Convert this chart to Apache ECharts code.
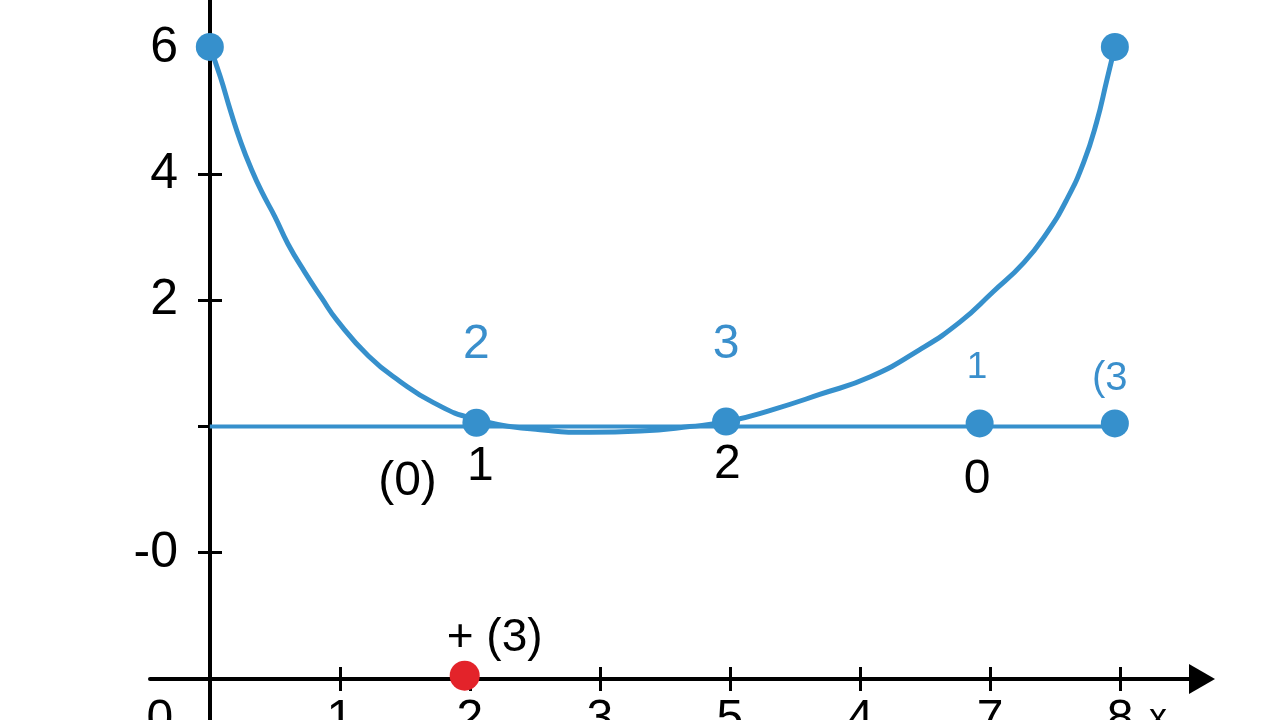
<!DOCTYPE html>
<html><head><meta charset="utf-8">
<script src="https://cdn.jsdelivr.net/npm/echarts@6/dist/echarts.min.js"></script>
<style>html,body{margin:0;padding:0;background:#fff}#c{width:1280px;height:720px}</style>
</head><body><div id="c"></div>
<script>
// ---- data ----
const xTickValues = [0, 1, 2, 3, 4, 5, 6, 7];
const xTickLabels = ['0', '1', '2', '3', '5', '4', '7', '8'];
const yTickValues = [-2, 0, 2, 4, 6];
const yTickLabels = ['-0', '', '2', '4', '6'];
const xAxisName = 'x';

const curvePoints = [
  [0, 6.02], [0.08, 5.55], [0.16, 5.0], [0.24, 4.5], [0.32, 4.08], [0.40, 3.72],
  [0.50, 3.33], [0.60, 2.90], [0.73, 2.45], [0.86, 2.04], [0.98, 1.68], [1.22, 1.12],
  [1.46, 0.72], [1.72, 0.38], [2.02, 0.13], [2.54, -0.05], [2.92, -0.09], [3.31, -0.07],
  [3.69, 0.0], [3.98, 0.08], [4.33, 0.27], [4.69, 0.51], [5.08, 0.79], [5.46, 1.22],
  [5.77, 1.66], [6.02, 2.13], [6.26, 2.60], [6.44, 3.08], [6.59, 3.60], [6.72, 4.19],
  [6.82, 4.83], [6.90, 5.51], [6.96, 6.02]
];
const baselinePoints = [[0, 0], [6.96, 0]];
const baselineMarkers = [[2.05, 0.06], [3.97, 0.08], [5.92, 0.05], [6.96, 0.05]];
const curveEndMarkers = [[0, 6.02], [6.96, 6.02]];
const redPoints = [[1.96, -3.95]];

const blueNotes = [[2.05, 1.30, '2'], [3.97, 1.30, '3'], [5.9, 0.94, '1'], [6.92, 0.75, '(3']];
const blueNoteSizes = [48, 48, 37, 40];
const blackNotes = [[1.52, -0.87, '(0)'], [2.08, -0.63, '1'], [3.98, -0.60, '2'], [5.9, -0.84, '0']];
const redNotes = [[2.19, -3.35, '+ (3)']];

// ---- chart ----
const BLUE = '#3690cc';
const FONT = 'Liberation Sans';
const XMIN = -0.46, XMAX = 7.63, YMIN = -4.7, YMAX = 6.78;

function noteSeries(notes, color, sizes, defSize) {
  return {
    type: 'scatter', symbolSize: 0, silent: true, z: 5,
    itemStyle: { color: color },
    data: notes.map((n, i) => ({
      value: [n[0], n[1]], name: n[2],
      label: { fontSize: sizes ? sizes[i] : defSize }
    })),
    label: {
      show: true, position: 'inside', formatter: '{b}', opacity: 1,
      color: color, fontFamily: FONT, fontSize: defSize, textBorderWidth: 0
    }
  };
}

const xCommon = { type: 'value', min: XMIN, max: XMAX, position: 'bottom', offset: -44, splitLine: { show: false } };
const yCommon = { type: 'value', min: YMIN, max: YMAX, position: 'left', offset: -60, splitLine: { show: false } };

const option = {
  animation: false,
  backgroundColor: '#fff',
  grid: { left: 150, right: 78, top: -1, bottom: -3, outerBoundsMode: 'none', containLabel: false },
  xAxis: [
    Object.assign({}, xCommon, {
      name: xAxisName, nameLocation: 'end', nameGap: -44,
      nameTextStyle: { color: '#000', fontFamily: FONT, fontSize: 36, align: 'center', verticalAlign: 'top', padding: [22, 0, 0, 0] },
      axisLine: { show: true, onZero: false, symbol: ['none', 'triangle'], symbolSize: [30, 26], lineStyle: { color: '#000', width: 4 } },
      axisTick: { show: true, customValues: xTickValues.slice(1), length: 12, lineStyle: { color: '#000', width: 3 } },
      axisLabel: {
        show: true, customValues: xTickValues, margin: 17,
        color: '#000', fontFamily: FONT, fontSize: 48,
        formatter: v => {
          const i = xTickValues.indexOf(v);
          const t = i >= 0 ? xTickLabels[i] : '';
          return v === 0 ? '{o|' + t + '}' : t;
        },
        rich: { o: { fontFamily: FONT, fontSize: 48, color: '#000', padding: [0, 100, 0, 0] } }
      }
    }),
    Object.assign({}, xCommon, {
      axisLine: { show: false, onZero: false },
      axisTick: { show: true, inside: true, customValues: xTickValues.slice(1), length: 12, lineStyle: { color: '#000', width: 3 } },
      axisLabel: { show: false }
    })
  ],
  yAxis: [
    Object.assign({}, yCommon, {
      axisLine: { show: true, onZero: false, lineStyle: { color: '#000', width: 4 } },
      axisTick: { show: true, customValues: yTickValues, length: 12, lineStyle: { color: '#000', width: 3 } },
      axisLabel: {
        show: true, customValues: yTickValues.filter((v, i) => yTickLabels[i] !== ''), margin: 32,
        color: '#000', fontFamily: FONT, fontSize: 50,
        formatter: v => { const i = yTickValues.indexOf(v); return i >= 0 ? yTickLabels[i] : ''; }
      }
    }),
    Object.assign({}, yCommon, {
      axisLine: { show: false, onZero: false },
      axisTick: { show: true, inside: true, customValues: yTickValues, length: 12, lineStyle: { color: '#000', width: 3 } },
      axisLabel: { show: false }
    })
  ],
  series: [
    { type: 'line', data: baselinePoints, symbol: 'none', silent: true, z: 2,
      lineStyle: { color: BLUE, width: 4 } },
    { type: 'line', data: curvePoints, smooth: 0.5, symbol: 'none', silent: true, z: 3,
      lineStyle: { color: BLUE, width: 5 } },
    { type: 'scatter', data: baselineMarkers.concat(curveEndMarkers), symbolSize: 28, silent: true, z: 4,
      itemStyle: { color: BLUE, opacity: 1 } },
    { type: 'scatter', data: redPoints, symbolSize: 30, silent: true, z: 4,
      itemStyle: { color: '#e3232a', opacity: 1 } },
    noteSeries(blueNotes, '#3a8fcc', blueNoteSizes, 48),
    noteSeries(blackNotes, '#000', null, 48),
    noteSeries(redNotes, '#000', null, 46)
  ]
};

const chart = echarts.init(document.getElementById('c'), null, { renderer: 'canvas' });
chart.setOption(option);
</script>
</body></html>
